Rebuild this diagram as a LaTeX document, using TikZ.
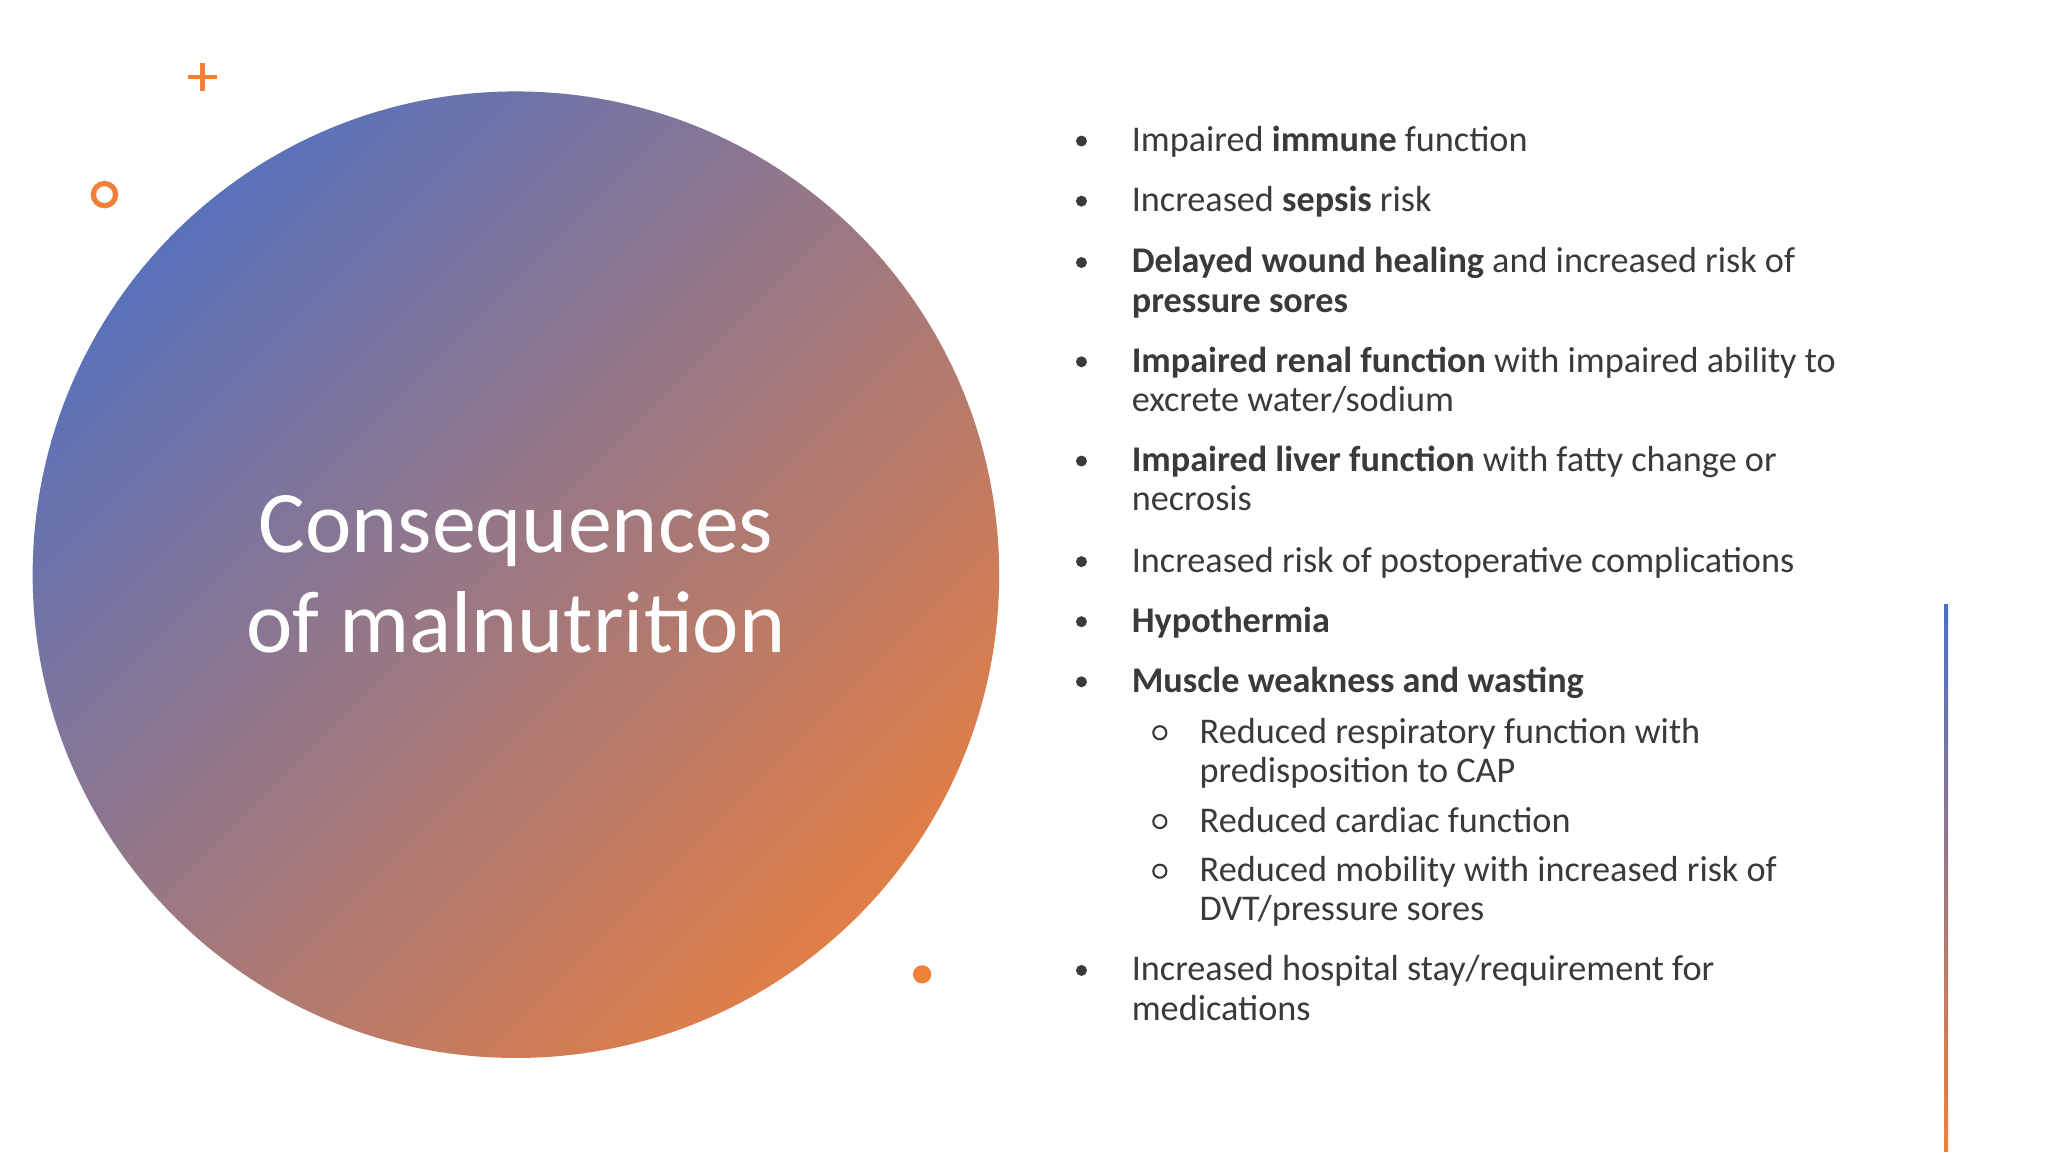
\documentclass[tikz,border=0pt]{standalone}
\usepackage{fontspec}
\setmainfont{Carlito}
\definecolor{cblue}{HTML}{4A70C8}
\definecolor{cmid}{HTML}{B0789A}
\definecolor{corange}{HTML}{F0803A}
\definecolor{txt}{HTML}{3A3A3A}
\begin{document}
\begin{tikzpicture}[x=0.013061cm,y=-0.013061cm,
  item/.style={anchor=base west,inner sep=0pt,text=txt,font=\fontsize{10.3pt}{12.4pt}\selectfont}]
\useasboundingbox (0,0) rectangle (1568,882);
\fill[white] (0,0) rectangle (1568,882);
% circle
\begin{scope}
\clip (395,440) circle (370);
\shade[top color=cblue,middle color=cmid,bottom color=corange,shading angle=45] (-60,-15) rectangle (850,895);
\end{scope}
\node[text=white,font=\fontsize{25pt}{28.5pt}\selectfont,align=center] (title) at (395,440) {Consequences\\of malnutrition};
% decorations
\draw[corange,line width=1.2pt] (144,59) -- (166,59) (155,48) -- (155,70);
\draw[corange,line width=1.5pt] (80,149) circle (8.5);
\fill[corange] (706,746) circle (7);
\shade[top color=cblue,bottom color=corange] (1488.5,463) rectangle (1491.5,882);
% bullets
\foreach \y in {108,154,201,277,353,430,476,522,743} \fill[txt] (828,\y) circle (4.2);
\foreach \y in {561,629,667} \draw[txt,line width=0.6pt] (888,\y) circle (5);
\node[item] (b1) at (866,116) {Impaired \textbf{immune} function};
\node[item] (b2) at (866,162) {Increased \textbf{sepsis} risk};
\node[item] (b3) at (866,209) {\textbf{Delayed wound healing} and increased risk of};
\node[item] (b3b) at (866,239) {\textbf{pressure sores}};
\node[item] (b4) at (866,285) {\textbf{Impaired renal function} with impaired ability to};
\node[item] (b4b) at (866,315) {excrete water/sodium};
\node[item] (b5) at (866,361) {\textbf{Impaired liver function} with fatty change or};
\node[item] (b5b) at (866,391) {necrosis};
\node[item] (b6) at (866,438) {Increased risk of postoperative complications};
\node[item] (b7) at (866,484) {\textbf{Hypothermia}};
\node[item] (b8) at (866,530) {\textbf{Muscle weakness and wasting}};
\node[item] (s1) at (918,569) {Reduced respiratory function with};
\node[item] (s1b) at (918,599) {predisposition to CAP};
\node[item] (s2) at (918,637) {Reduced cardiac function};
\node[item] (s3) at (918,675) {Reduced mobility with increased risk of};
\node[item] (s3b) at (918,705) {DVT/pressure sores};
\node[item] (b9) at (866,751) {Increased hospital stay/requirement for};
\node[item] (b9b) at (866,781) {medications};
\end{tikzpicture}
\end{document}
